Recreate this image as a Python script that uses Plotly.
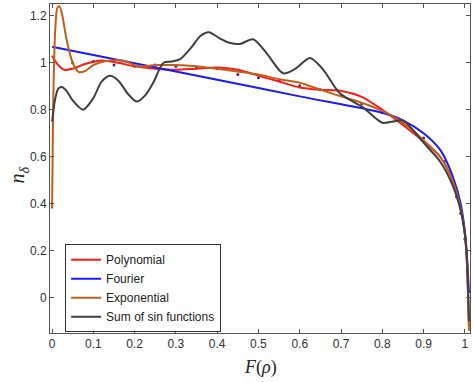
import plotly.graph_objects as go

# Polynomial fit
poly_x = [0, 0.015, 0.03, 0.05, 0.08, 0.12, 0.16, 0.2, 0.25, 0.3, 0.35, 0.4, 0.45, 0.5, 0.55,
          0.6, 0.65, 0.7, 0.75, 0.8, 0.85, 0.9, 0.94, 0.97, 0.99, 1.0, 1.005, 1.01]
poly_y = [1.03, 0.99, 0.97, 0.975, 0.995, 1.01, 1.0, 0.985, 0.975, 0.97, 0.975, 0.98, 0.97, 0.945, 0.92,
          0.895, 0.885, 0.88, 0.855, 0.80, 0.735, 0.665, 0.6, 0.5, 0.38, 0.28, 0.15, -0.12]

# Fourier fit
four_x = [0, 0.2, 0.4, 0.6, 0.8, 0.85, 0.9, 0.94, 0.97, 0.99, 1.0, 1.005, 1.01]
four_y = [1.068, 0.998, 0.928, 0.857, 0.787, 0.755, 0.70, 0.63, 0.52, 0.40, 0.28, 0.18, 0.02]

# Exponential fit
expo_x = [0, 0.003, 0.008, 0.013, 0.018, 0.025, 0.035, 0.05, 0.065, 0.08, 0.1, 0.125, 0.17, 0.21,
          0.25, 0.3, 0.35, 0.42, 0.5, 0.55, 0.6, 0.65, 0.7, 0.75, 0.8, 0.85, 0.9, 0.94, 0.97, 0.99,
          1.0, 1.005, 1.01]
expo_y = [0.38, 0.85, 1.15, 1.235, 1.24, 1.2, 1.1, 1.0, 0.96, 0.965, 0.99, 1.005, 1.01, 0.985,
          0.99, 0.99, 0.985, 0.97, 0.95, 0.93, 0.915, 0.885, 0.857, 0.83, 0.795, 0.745, 0.67, 0.6, 0.5, 0.38,
          0.27, 0.15, -0.14]

# Sum of sin functions fit
sin_x = [0, 0.008, 0.015, 0.024, 0.035, 0.05, 0.075, 0.1, 0.12, 0.14, 0.16, 0.185, 0.205, 0.225,
         0.245, 0.27, 0.29, 0.31, 0.335, 0.36, 0.38, 0.405, 0.43, 0.455, 0.487, 0.52, 0.56, 0.59,
         0.625, 0.657, 0.697, 0.753, 0.8, 0.826, 0.85, 0.874, 0.9, 0.94, 0.97, 0.99, 1.0, 1.005, 1.01]
sin_y = [0.75, 0.85, 0.89, 0.897, 0.88, 0.84, 0.80, 0.85, 0.92, 0.945, 0.925, 0.865, 0.835, 0.86,
         0.915, 1.0, 1.005, 1.015, 1.06, 1.115, 1.13, 1.105, 1.085, 1.08, 1.10, 1.04, 0.955, 0.975,
         1.02, 0.97, 0.87, 0.81, 0.745, 0.75, 0.755, 0.715, 0.66, 0.58, 0.48, 0.37, 0.27, 0.17, -0.1]

# Measured data points
data_x = [0.05, 0.1, 0.15, 0.2, 0.25, 0.3, 0.35, 0.4, 0.45, 0.5, 0.55, 0.6, 0.65, 0.7, 0.75,
          0.8, 0.85, 0.9, 0.95, 0.97, 0.98, 0.99, 1.0]
data_y = [1.0, 1.005, 0.99, 0.985, 0.99, 0.985, 0.98, 0.975, 0.95, 0.936, 0.923, 0.902, 0.885,
          0.86, 0.826, 0.787, 0.745, 0.68, 0.58, 0.49, 0.43, 0.36, 0.25]

x_ticks = [0, 0.1, 0.2, 0.3, 0.4, 0.5, 0.6, 0.7, 0.8, 0.9, 1]
x_ticklabels = ["0", "0.1", "0.2", "0.3", "0.4", "0.5", "0.6", "0.7", "0.8", "0.9", "1"]
y_ticks = [0, 0.2, 0.4, 0.6, 0.8, 1, 1.2]
y_ticklabels = ["0", "0.2", "0.4", "0.6", "0.8", "1", "1.2"]

fig = go.Figure()
fig.add_trace(go.Scatter(x=data_x, y=data_y, mode="markers", showlegend=False,
                         marker=dict(size=3, color="#4a2a6a")))
fig.add_trace(go.Scatter(x=poly_x, y=poly_y, mode="lines", name="Polynomial",
                         line=dict(color="#ff1a1a", width=2, shape="spline", smoothing=0.8)))
fig.add_trace(go.Scatter(x=four_x, y=four_y, mode="lines", name="Fourier",
                         line=dict(color="#1a1aff", width=2, shape="spline", smoothing=0.8)))
fig.add_trace(go.Scatter(x=expo_x, y=expo_y, mode="lines", name="Exponential",
                         line=dict(color="#c0601a", width=2, shape="spline", smoothing=0.8)))
fig.add_trace(go.Scatter(x=sin_x, y=sin_y, mode="lines", name="Sum of sin functions",
                         line=dict(color="#404040", width=2, shape="spline", smoothing=0.8)))

axis_common = dict(showline=True, linecolor="#555555", linewidth=1, mirror="ticks",
                   ticks="inside", ticklen=4, tickcolor="#555555", showgrid=False, zeroline=False,
                   tickfont=dict(family="Liberation Sans, Arial", size=12, color="#333333"))

fig.update_layout(
    width=474, height=382,
    margin=dict(l=50, r=4, t=4, b=49),
    paper_bgcolor="white", plot_bgcolor="white",
    xaxis=dict(range=[-0.005, 1.0125], tickvals=x_ticks, ticktext=x_ticklabels, **axis_common),
    yaxis=dict(range=[-0.15, 1.25], tickvals=y_ticks, ticktext=y_ticklabels, **axis_common),
    legend=dict(x=0.036, y=0.27, xanchor="left", yanchor="top", bgcolor="white",
                bordercolor="#333333", borderwidth=1,
                font=dict(family="Liberation Sans, Arial", size=12, color="#222222")),
    showlegend=True,
)

fig.add_annotation(text="<i>F</i>(<i>ρ</i>)", xref="paper", yref="paper", x=0.5, y=-0.105,
                   xanchor="center", yanchor="middle", showarrow=False,
                   font=dict(family="Liberation Serif, Times New Roman", size=18, color="#222222"))
fig.add_annotation(text="<i>n</i><sub><i>δ</i></sub>", xref="paper", yref="paper", x=-0.075, y=0.48,
                   xanchor="center", yanchor="middle", showarrow=False, textangle=-90,
                   font=dict(family="Liberation Serif, Times New Roman", size=20, color="#222222"))

fig.write_html("out.html", config={"displayModeBar": False},
               post_script="document.body.style.margin='0';document.body.style.overflow='hidden';")
